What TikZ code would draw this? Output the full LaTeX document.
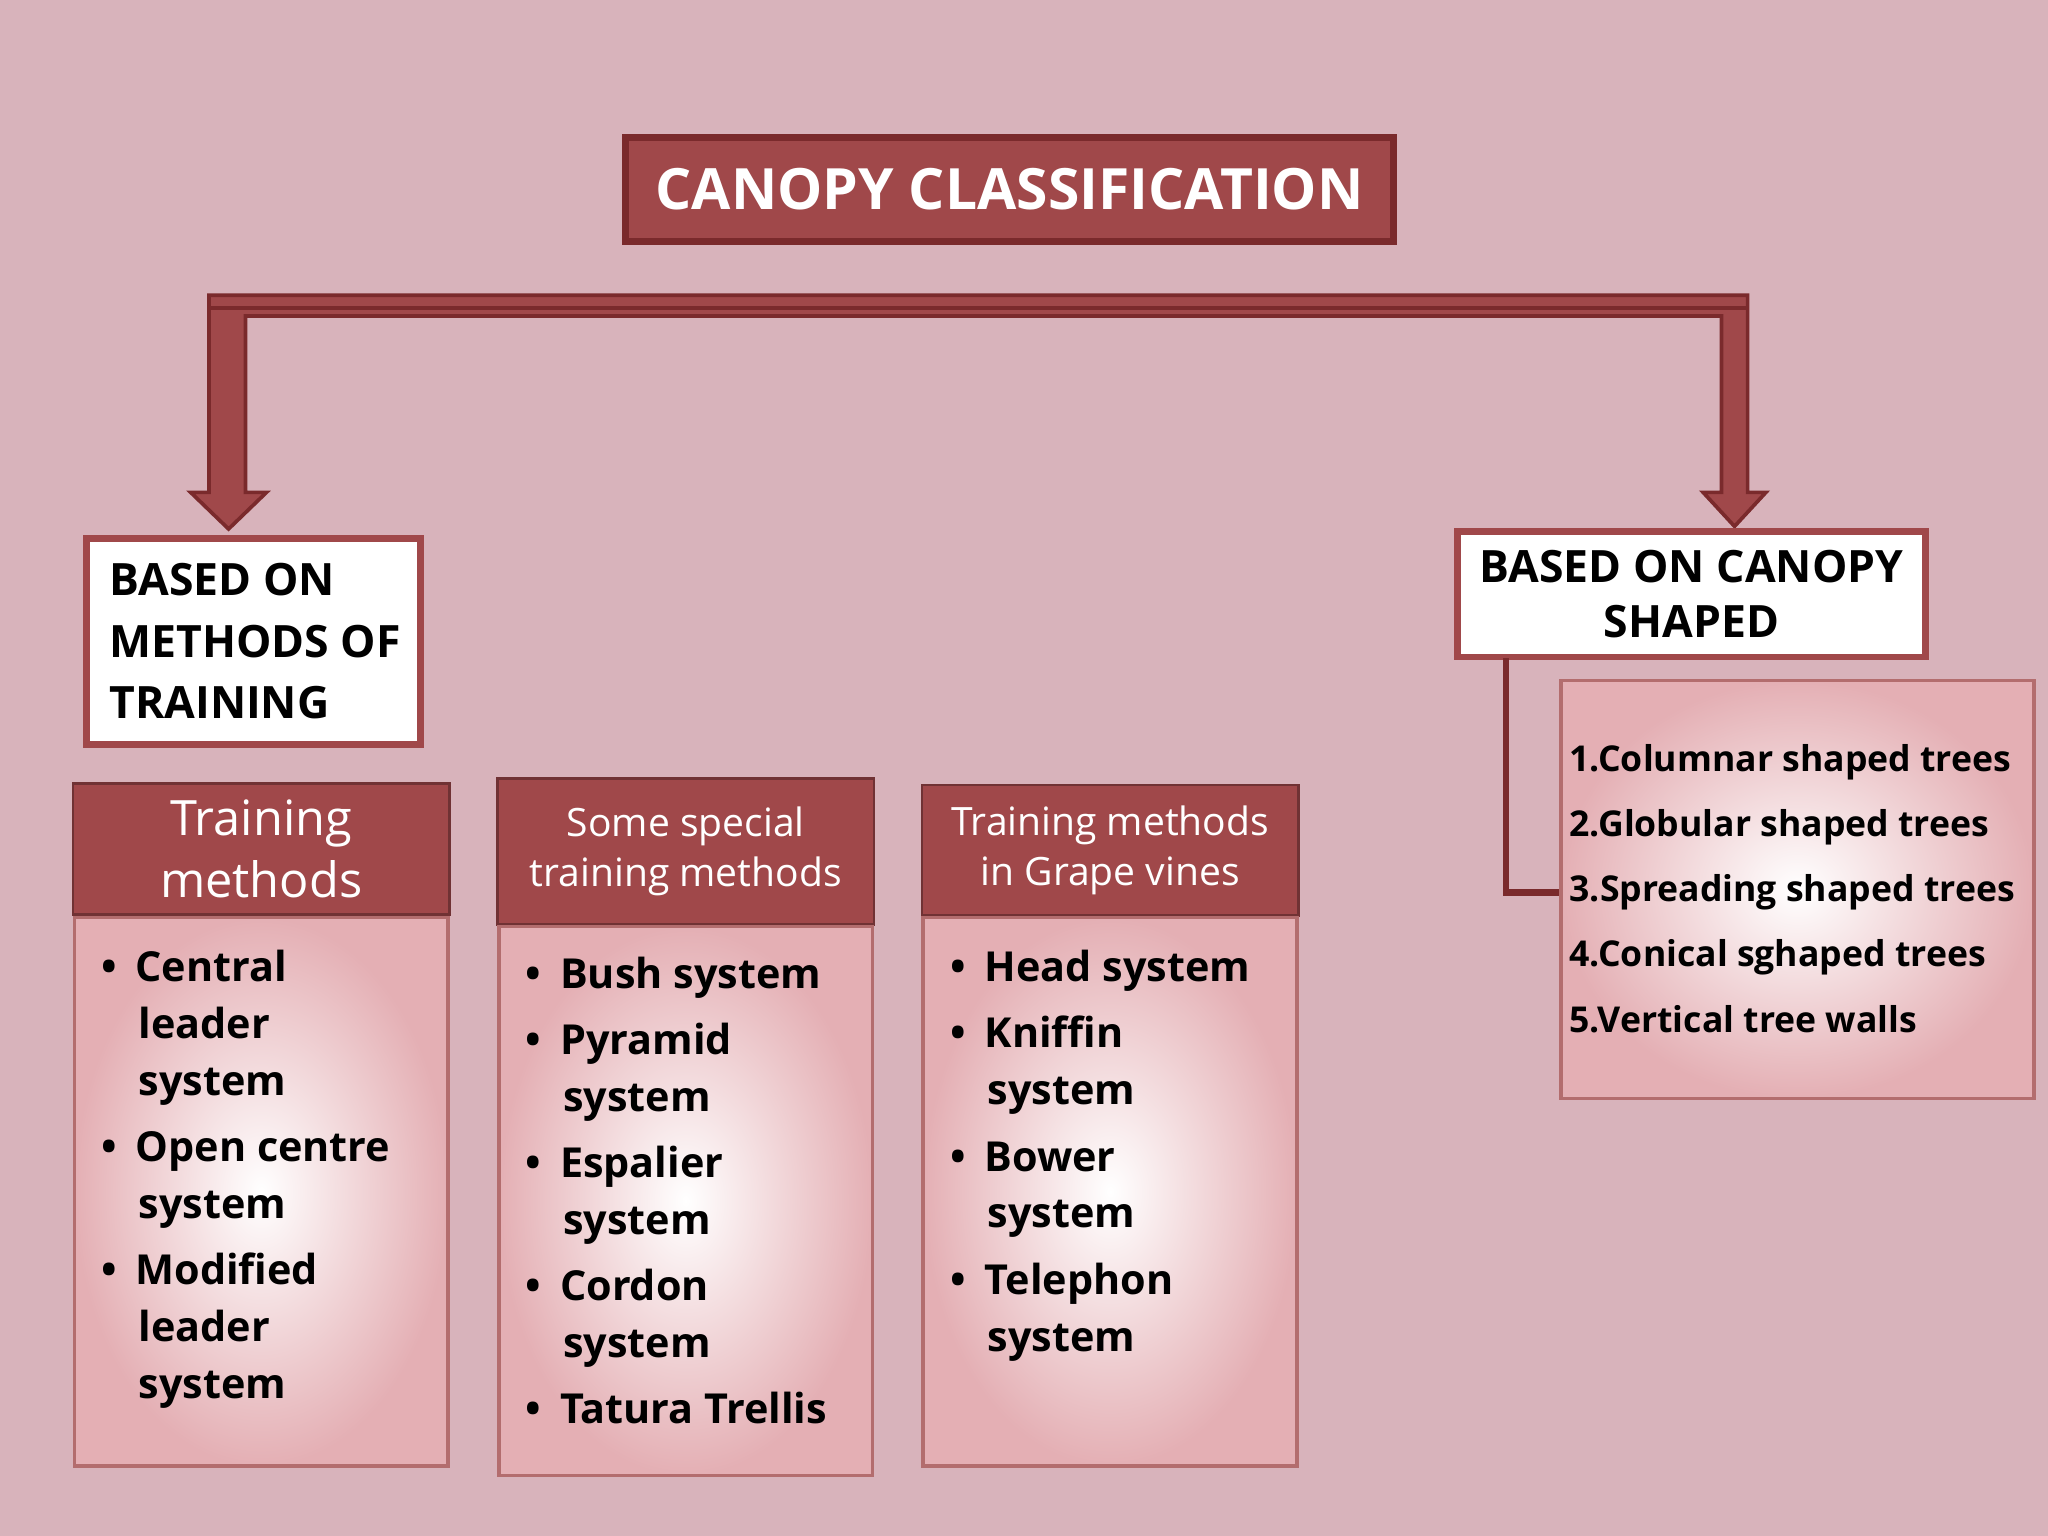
\documentclass[tikz,border=0pt]{standalone}
\usepackage{fontspec}
\setmainfont{Open Sans}
\usetikzlibrary{positioning}
\definecolor{bg}{HTML}{D8B3BB}
\definecolor{dred}{HTML}{A0484A}
\definecolor{bred}{HTML}{7A2A2C}
\definecolor{pinkf}{HTML}{E4AFB4}
\tikzset{
 hdr/.style={fill=dred,draw=dred!70!black,line width=0.6pt,text=white,align=center,inner sep=0pt},
 whitebox/.style={fill=white,draw=dred,line width=1.5pt,inner sep=0pt},
 listbox/.style={inner color=white,outer color=pinkf,draw=dred!80,line width=0.8pt,inner sep=0pt},
 arr/.style={fill=dred,draw=bred,line width=0.8pt},
 item/.style={anchor=north west,align=left,inner sep=0pt,font=\bfseries\fontsize{9}{12.4}\selectfont},
}
\newcommand{\bl}{\textbullet\hspace{0.45em}}
\newcommand{\ind}{\hspace*{0.9em}}
\newcommand{\nb}{\\[0.07cm]}
\begin{document}
\begin{tikzpicture}[x=0.01cm,y=-0.01cm]
\fill[bg] (0,0) rectangle (1568,1176);
\useasboundingbox (0,0) rectangle (1568,1176);
% title
\node[hdr,font=\bfseries\fontsize{12.4}{15}\selectfont,draw=bred,line width=1.5pt,minimum width=5.88cm,minimum height=0.8cm] (title) at (773,145) {CANOPY CLASSIFICATION};
% bracket arrows
\filldraw[arr] (160,226) -- (1338,226) -- (1338,377) -- (1352,377) -- (1328,403) -- (1304,377) -- (1318,377) -- (1318,242) -- (188,242) -- (188,377) -- (204,377) -- (175,405) -- (146,377) -- (160,377) -- cycle;
\draw[bred,line width=0.8pt] (160,236) -- (1338,236);
% white boxes
\node[whitebox,minimum width=2.56cm,minimum height=1.58cm] (lb) at (194,491) {};
\node[anchor=west,align=left,inner sep=0pt,font=\bfseries\fontsize{9.7}{13.4}\selectfont] (lbt) at (83,491) {BASED ON\\METHODS OF\\TRAINING};
\node[whitebox,minimum width=3.58cm,minimum height=0.96cm,align=center,font=\bfseries\fontsize{9.7}{12}\selectfont] (rb) at (1295,455) {BASED ON CANOPY\\SHAPED};
% right list
\node[listbox,minimum width=3.62cm,minimum height=3.2cm] (rl) at (1376,681) {};
\coordinate (c1) at (1153,504);
\coordinate (c2) at (1153,683);
\draw[bred,line width=1.5pt] (c1) -- (c2) -- (rl.west |- c2);
\node[item,font=\bfseries\fontsize{7.75}{14.2}\selectfont] (rlt) at (1201,569) {1.Columnar shaped trees\\2.Globular shaped trees\\3.Spreading shaped trees\\4.Conical sghaped trees\\5.Vertical tree walls};
% columns
\node[hdr,minimum width=2.88cm,minimum height=1.0cm,font=\fontsize{10.6}{13.5}\selectfont] (h1) at (200,650) {Training\\methods};
\node[listbox,minimum width=2.86cm,minimum height=4.2cm,anchor=north] (l1) at (200,701) {};
\node[item] (t1) at (77,727) {\bl Central\\\ind leader\\\ind system\nb\bl Open centre\\\ind system\nb\bl Modified\\\ind leader\\\ind system};
\node[hdr,minimum width=2.88cm,minimum height=1.12cm,font=\fontsize{8.5}{11}\selectfont] (h2) at (525,652) {Some special\\training methods};
\node[listbox,minimum width=2.86cm,minimum height=4.2cm,anchor=north] (l2) at (525,708) {};
\node[item] (t2) at (402,732) {\bl Bush system\nb\bl Pyramid\\\ind system\nb\bl Espalier\\\ind system\nb\bl Cordon\\\ind system\nb\bl Tatura Trellis};
\node[hdr,minimum width=2.88cm,minimum height=1.0cm,font=\fontsize{8.5}{11}\selectfont] (h3) at (850,651) {Training methods\\in Grape vines};
\node[listbox,minimum width=2.86cm,minimum height=4.2cm,anchor=north] (l3) at (850,701) {};
\node[item] (t3) at (727,727) {\bl Head system\nb\bl Kniffin\\\ind system\nb\bl Bower\\\ind system\nb\bl Telephon\\\ind system};
\end{tikzpicture}
\end{document}
